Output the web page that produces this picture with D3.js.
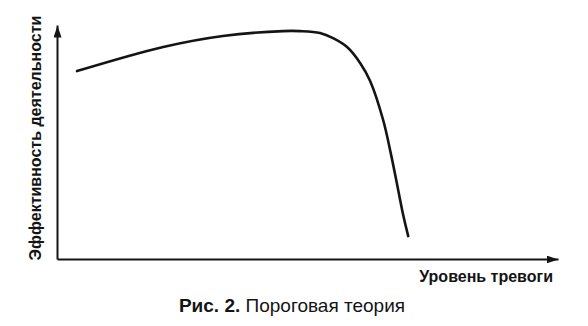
<!DOCTYPE html>
<html>
<head>
<meta charset="utf-8">
<script src="https://cdn.jsdelivr.net/npm/d3@7"></script>
<style>
  body { margin: 0; background: #fff; }
  svg { display: block; }
</style>
</head>
<body>
<main></main>
<script>
// curve points (anxiety level -> effectiveness, 0..100)
const anxiety = [4.0, 21.2, 33.1, 45.1, 48.5, 52.5, 55.1, 57.9, 60.5, 62.5, 65.1, 66.7, 68.1, 69.1, 70.1];
const effect  = [80.3, 90.6, 95.3, 97.4, 97.4, 96.6, 94.4, 90.6, 83.8, 76.1, 59.4, 44.4, 29.5, 18.8, 9.8];

const yTitle = "Эффективность деятельности";
const xTitle = "Уровень тревоги";
const captionBold = "Рис. 2.";
const captionText = " Пороговая теория";

const size = { width: 588, height: 326 };
const ink = "#141414";

const svg = d3.select('main')
    .append('svg')
    .attr('width', size.width)
    .attr('height', size.height);

const xScale = d3.scaleLinear().domain([0, 100]).range([57, 558]);
const yScale = d3.scaleLinear().domain([0, 100]).range([259, 25]);

// arrow heads
svg.append('defs').append('marker')
    .attr('id', 'arrow')
    .attr('markerUnits', 'userSpaceOnUse')
    .attr('viewBox', '0 0 12 8')
    .attr('refX', 12).attr('refY', 4)
    .attr('markerWidth', 12).attr('markerHeight', 8)
    .attr('orient', 'auto')
    .append('path')
    .attr('d', 'M0,0 L12,4 L0,8 Z')
    .attr('fill', ink);

// axes (no ticks, just the lines)
const xAxis = svg.append('g')
    .attr('transform', `translate(0,${yScale(0)})`)
    .call(d3.axisBottom(xScale).tickValues([]).tickSizeOuter(0));
const yAxis = svg.append('g')
    .attr('transform', `translate(${xScale(0)},0)`)
    .call(d3.axisLeft(yScale).tickValues([]).tickSizeOuter(0));

[xAxis, yAxis].forEach(a => a.select('.domain')
    .attr('stroke', ink)
    .attr('stroke-width', 2)
    .attr('marker-end', 'url(#arrow)'));

// the curve
const pts = anxiety.map((a, i) => [a, effect[i]]);
svg.append('path')
    .datum(pts)
    .attr('fill', 'none')
    .attr('stroke', ink)
    .attr('stroke-width', 2.6)
    .attr('stroke-linecap', 'round')
    .attr('d', d3.line()
        .x(d => xScale(d[0]))
        .y(d => yScale(d[1]))
        .curve(d3.curveCatmullRom.alpha(0.5)));

// labels
svg.append('text')
    .attr('transform', `translate(41,${(yScale(0) + yScale(100)) / 2 - 4}) rotate(-90)`)
    .attr('text-anchor', 'middle')
    .attr('font-family', 'Liberation Sans, Arial, sans-serif')
    .attr('font-weight', 'bold')
    .attr('font-size', 16)
    .attr('fill', ink)
    .text(yTitle);

svg.append('text')
    .attr('x', 553).attr('y', 282)
    .attr('text-anchor', 'end')
    .attr('font-family', 'Liberation Sans, Arial, sans-serif')
    .attr('font-weight', 'bold')
    .attr('font-size', 16)
    .attr('fill', ink)
    .text(xTitle);

const cap = svg.append('text')
    .attr('x', 292).attr('y', 312)
    .attr('text-anchor', 'middle')
    .attr('font-family', 'Liberation Sans, Arial, sans-serif')
    .attr('font-size', 19)
    .attr('fill', ink);
cap.append('tspan').attr('font-weight', 'bold').text(captionBold);
cap.append('tspan').text(captionText);
</script>
</body>
</html>
